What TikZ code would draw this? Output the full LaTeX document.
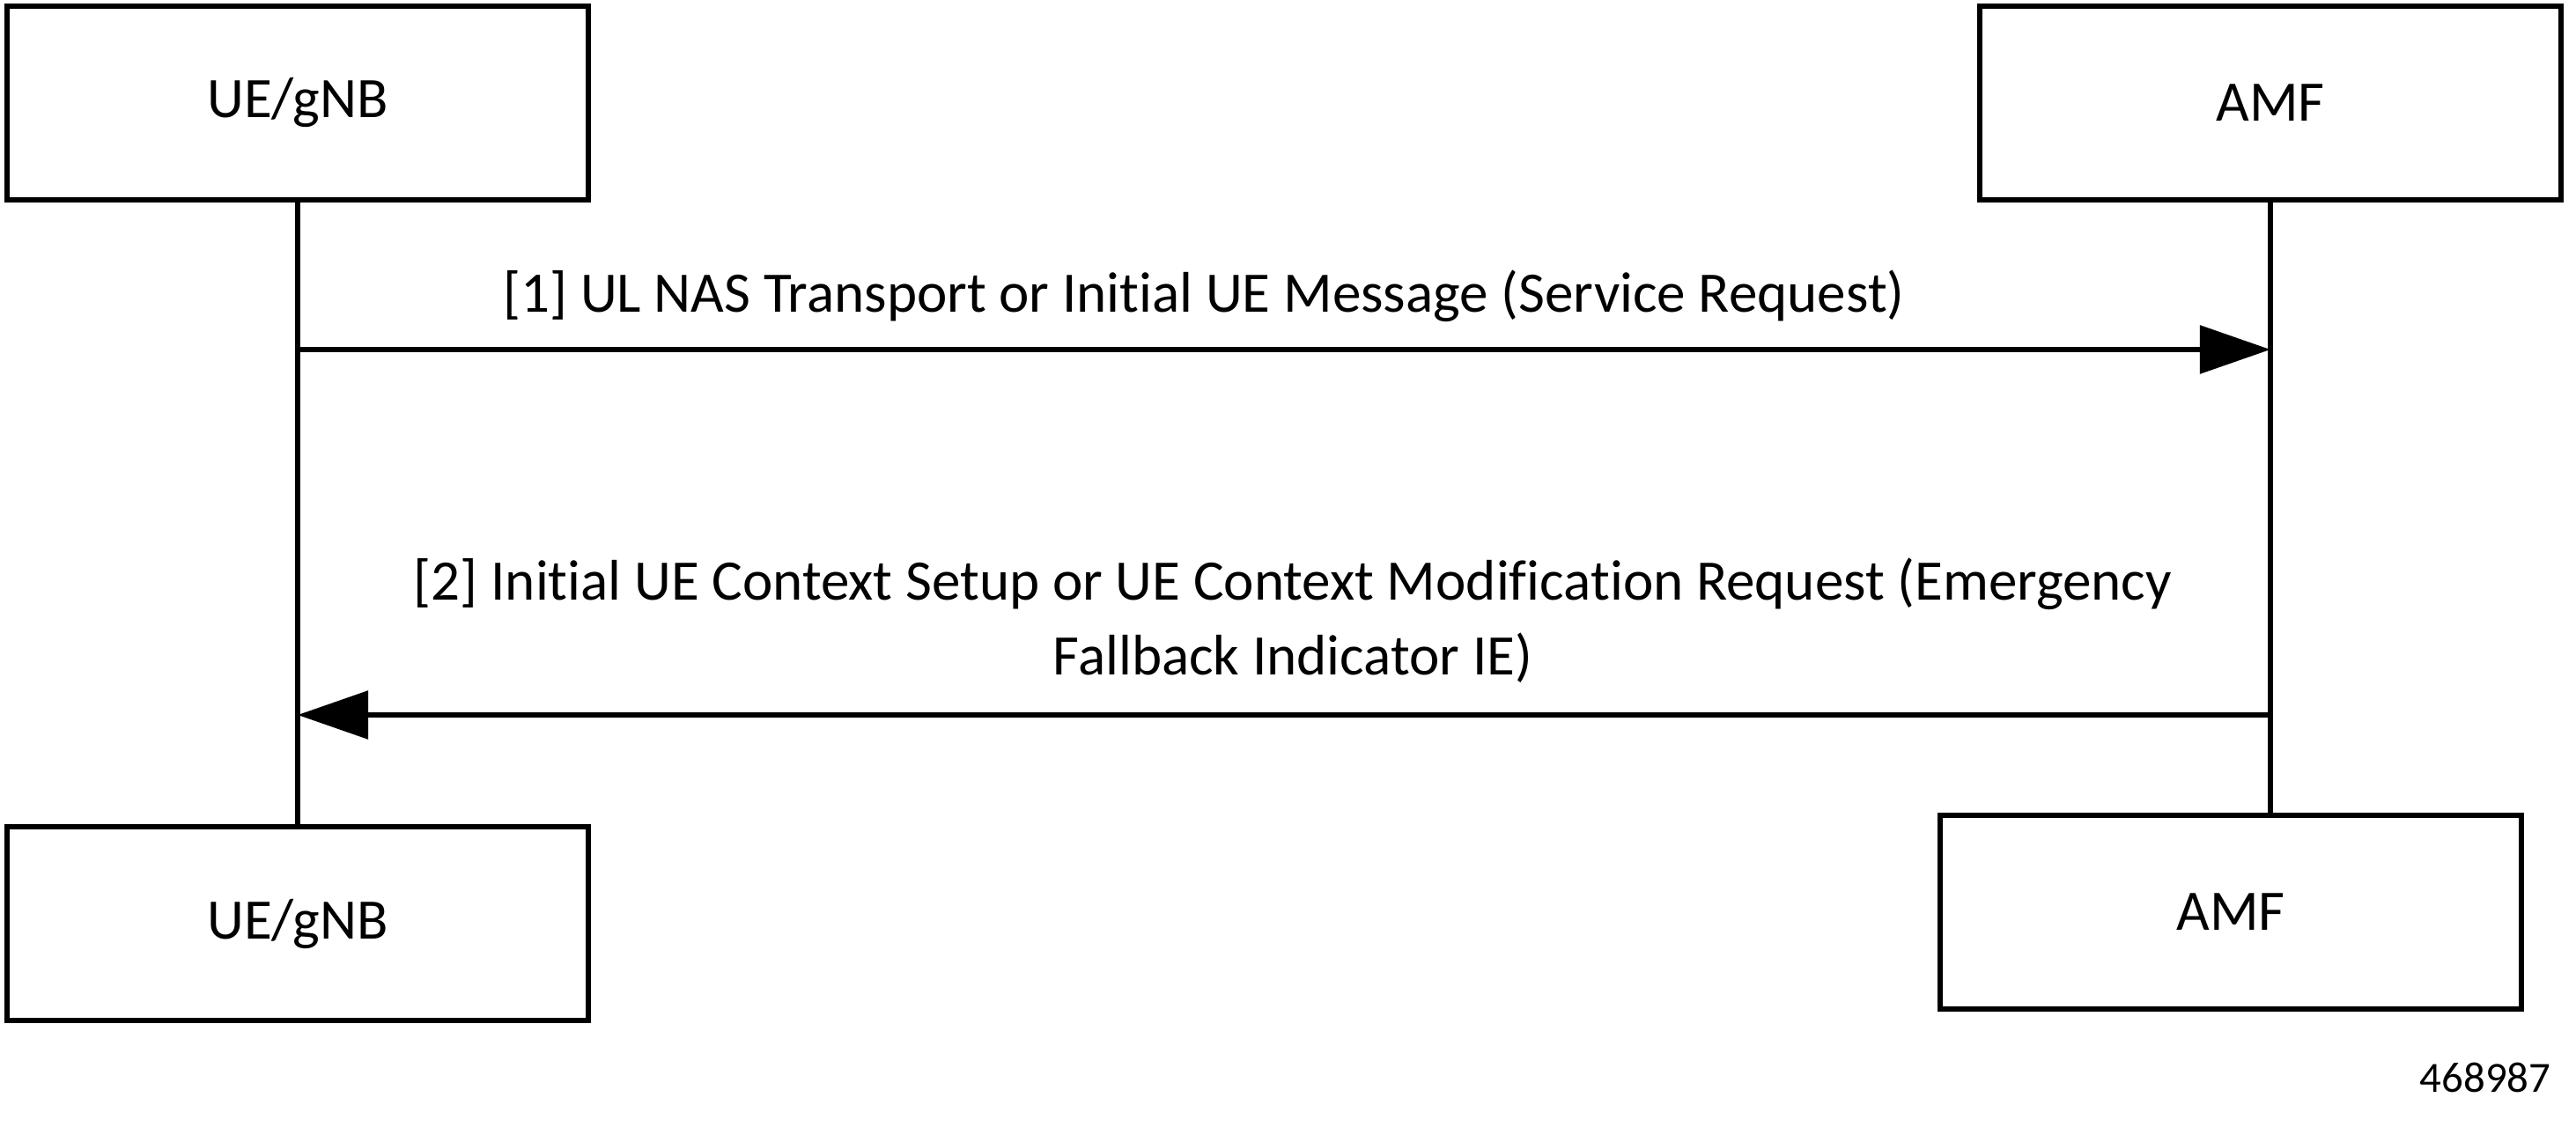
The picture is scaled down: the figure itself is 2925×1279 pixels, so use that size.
\documentclass[tikz,border=0pt]{standalone}
\usepackage{fontspec}
\setmainfont{Carlito}[Ligatures=NoCommon]
\usetikzlibrary{arrows.meta,positioning}

\tikzset{
  entity/.style={draw, line width=1.62pt, minimum width=6.6cm, minimum height=2.2cm,
    inner sep=0pt, font=\fontsize{18.5}{20}\selectfont},
  lifeline/.style={line width=1.62pt},
  msg/.style={line width=1.62pt, -{Triangle[length=0.8cm,width=0.54cm]}},
  msglabel/.style={inner sep=0pt, align=center, font=\fontsize{18.5}{19.9}\selectfont}
}

\begin{document}
\begin{tikzpicture}[x=0.01cm,y=-0.01cm]
\useasboundingbox (0,0) rectangle (2925,1279);
\node[entity] (uetop) at (338,117) {UE/gNB};
\node[entity] (amftop) at (2578,117) {AMF};
\node[entity] (uebot) at (338,1049) {UE/gNB};
\node[entity] (amfbot) at (2533,1036) {AMF};
% lifelines
\draw[lifeline] (uetop) -- (uebot);
\draw[lifeline] (amftop.south) -- (amftop.south |- amfbot.north);
% messages
\coordinate (ue1) at (uetop |- 0,397);
\coordinate (amf1) at (amftop |- 0,397);
\coordinate (ue2) at (uetop |- 0,812);
\coordinate (amf2) at (amftop |- 0,812);
\draw[msg] (ue1) -- (amf1);
\draw[msg] (amf2) -- (ue2);
\node[msglabel, anchor=base] (lbl1) at (1367,354) {[1] UL NAS Transport or Initial UE Message (Service Request)};
\node[msglabel, anchor=base] (lbl2) at (1468,766) {[2] Initial UE Context Setup or UE Context Modification Request (Emergency\\[4pt]Fallback Indicator IE)};
\node[inner sep=0pt, anchor=base east, font=\fontsize{13.9}{15}\selectfont] (figid) at (2897,1240) {468987};
\end{tikzpicture}
\end{document}
